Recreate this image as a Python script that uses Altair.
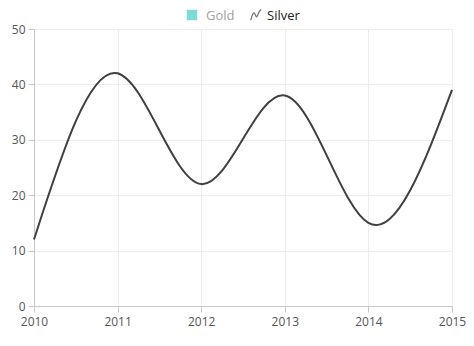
import altair as alt
import pandas as pd

years = [2010, 2011, 2012, 2013, 2014, 2015]
silver = [12, 42, 22, 38, 15, 39]
legend_names = ["Gold", "Silver"]
legend_colors = ["#7fd9d4", "#404040"]
legend_text_colors = ["#a0a0a0", "#222222"]

df = pd.DataFrame({"Year": years, "Silver": silver})

FONT = "Open Sans"

x_axis = alt.Axis(values=years, format="d", labelFont=FONT, labelFontSize=12,
                  labelColor="#555555", gridColor="#ececec", domainColor="#c8c8c8",
                  tickColor="#c8c8c8", tickSize=6, labelPadding=4, title=None,
                  labelFlush=False)
y_axis = alt.Axis(values=[0, 10, 20, 30, 40, 50], labelFont=FONT, labelFontSize=12,
                  labelColor="#555555", gridColor="#ececec", domainColor="#c8c8c8",
                  tickColor="#c8c8c8", tickSize=6, labelPadding=3, title=None)

line = alt.Chart(df).mark_line(interpolate="natural", color="#404040", strokeWidth=2).encode(
    x=alt.X("Year:Q", scale=alt.Scale(domain=[2010, 2015], nice=False, zero=False), axis=x_axis),
    y=alt.Y("Silver:Q", scale=alt.Scale(domain=[0, 50], nice=False), axis=y_axis),
)

leg = pd.DataFrame({"name": legend_names, "color": legend_colors, "tcolor": legend_text_colors})

gold_sym = alt.Chart(leg[leg.name == "Gold"]).mark_square(size=110, opacity=1, filled=True).encode(
    x=alt.value(158), y=alt.value(-14), color=alt.Color("color:N", scale=None)
)
silver_sym = alt.Chart(leg[leg.name == "Silver"]).mark_point(
    shape="M -0.9 0.9 C -0.6 -0.2 -0.4 -0.6 -0.2 -0.2 C 0 0.3 0.1 0.5 0.3 0 C 0.5 -0.5 0.6 -0.8 0.9 -0.9",
    size=140, filled=False, strokeWidth=1.3
).encode(x=alt.value(222), y=alt.value(-14), color=alt.Color("color:N", scale=None))

gold_txt = alt.Chart(leg[leg.name == "Gold"]).mark_text(
    align="left", baseline="middle", font=FONT, fontSize=13
).encode(x=alt.value(172), y=alt.value(-13), text="name:N", color=alt.Color("tcolor:N", scale=None))
silver_txt = alt.Chart(leg[leg.name == "Silver"]).mark_text(
    align="left", baseline="middle", font=FONT, fontSize=13
).encode(x=alt.value(233), y=alt.value(-13), text="name:N", color=alt.Color("tcolor:N", scale=None))

chart = alt.layer(line, gold_sym, silver_sym, gold_txt, silver_txt).properties(
    width=418, height=277,
    padding={"left": 34, "top": 29, "right": 22, "bottom": 40},
    autosize=alt.AutoSizeParams(type="none"),
    background="white",
).configure_view(stroke=None)

chart.save("out.html", embed_options={"renderer": "svg", "actions": False})
